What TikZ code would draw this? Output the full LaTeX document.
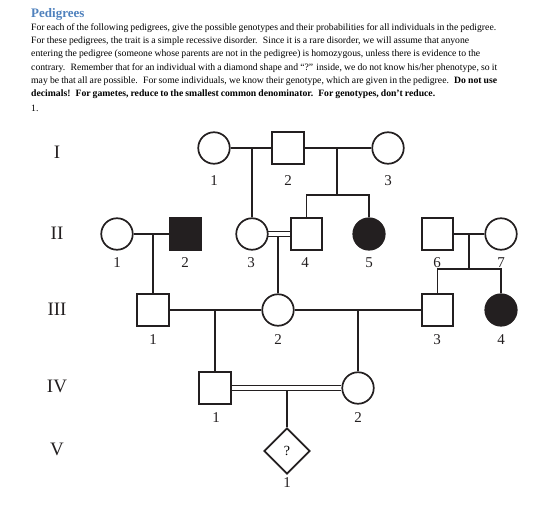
\documentclass[tikz,border=0pt]{standalone}
\usepackage{fontspec}
\setmainfont{Liberation Serif}
\usetikzlibrary{shapes.geometric}
\definecolor{titleblue}{RGB}{79,129,189}
\definecolor{ink}{RGB}{35,31,32}
\tikzset{
  line/.style={line width=1.7pt, draw=ink},
  dbl/.style={line width=1.3pt, draw=ink},
  male/.style={draw=ink, line width=1.7pt, rectangle, minimum size=31.5pt, inner sep=0},
  female/.style={draw=ink, line width=1.7pt, circle, minimum size=31.5pt, inner sep=0},
  aff/.style={fill=ink},
  unk/.style={draw=ink, line width=1.7pt, diamond, minimum width=46pt, minimum height=46pt, inner sep=0, font=\fontsize{14}{14}\selectfont},
  num/.style={font=\fontsize{15}{15}\selectfont, inner sep=0, text=ink},
  gen/.style={font=\fontsize{19}{19}\selectfont, inner sep=0, text=ink},
  body/.style={anchor=base west, inner sep=0, font=\fontsize{9.7}{10}\selectfont},
}
\begin{document}
\begin{tikzpicture}[x=1pt,y=-1pt]
\useasboundingbox (0,0) rectangle (549,513);
% heading and text
\node[anchor=base west, inner sep=0, font=\fontsize{13}{13}\selectfont\bfseries, text=titleblue] (title) at (31,17.5) {Pedigrees};
\node[body] (t1) at (31,30.5) {\makebox[465pt][s]{For each of the following pedigrees, give the possible genotypes and their probabilities for all individuals in the pedigree.}};
\node[body] (t2) at (31,44) {\makebox[438pt][s]{For these pedigrees, the trait is a simple recessive disorder.~ Since it is a rare disorder, we will assume that anyone}};
\node[body] (t3) at (31,57) {\makebox[449pt][s]{entering the pedigree (someone whose parents are not in the pedigree) is homozygous, unless there is evidence to the}};
\node[body] (t4) at (31,70.5) {\makebox[466pt][s]{contrary.~ Remember that for an individual with a diamond shape and “?” inside, we do not know his/her phenotype, so it}};
\node[body] (t5) at (31,83.5) {\makebox[466pt][s]{may be that all are possible.~ For some individuals, we know their genotype, which are given in the pedigree.~ \textbf{Do not use}}};
\node[body] (t6) at (31,96.5) {\makebox[404pt][s]{\bfseries decimals!~ For gametes, reduce to the smallest common denominator.~ For genotypes, don’t reduce.}};
\node[body] (t7) at (31,112) {1.};
% generation numerals
\node[gen] (gI) at (57,152) {I};
\node[gen] (gII) at (57,233) {II};
\node[gen] (gIII) at (57,309) {III};
\node[gen] (gIV) at (57,386) {IV};
\node[gen] (gV) at (57,449) {V};
% individuals
\node[female] (I1) at (214,148) {};
\node[male] (I2) at (288,148) {};
\node[female] (I3) at (388,148) {};
\node[female] (II1) at (117,234) {};
\node[male,aff] (II2) at (185.5,234) {};
\node[female] (II3) at (252,234) {};
\node[male] (II4) at (306.5,234) {};
\node[female,aff] (II5) at (369,234) {};
\node[male] (II6) at (437.5,234) {};
\node[female] (II7) at (501,234) {};
\node[male] (III1) at (153,310) {};
\node[female] (III2) at (278,310) {};
\node[male] (III3) at (437.5,310) {};
\node[female,aff] (III4) at (501,310) {};
\node[male] (IV1) at (215,388) {};
\node[female] (IV2) at (358,388) {};
\node[unk] (V1) at (287,451) {?};
% labels
\node[num] (lI1) at (214,181) {1};
\node[num] (lI2) at (288,181) {2};
\node[num] (lI3) at (388,181) {3};
\node[num] (lII1) at (117,263) {1};
\node[num] (lII2) at (185,263) {2};
\node[num] (lII3) at (251,263) {3};
\node[num] (lII4) at (305,263) {4};
\node[num] (lII5) at (369,263) {5};
\node[num] (lII6) at (437,263) {6};
\node[num] (lII7) at (501,263) {7};
\node[num] (lIII1) at (153,340) {1};
\node[num] (lIII2) at (278,340) {2};
\node[num] (lIII3) at (437,340) {3};
\node[num] (lIII4) at (501,340) {4};
\node[num] (lIV1) at (216,418) {1};
\node[num] (lIV2) at (358,418) {2};
\node[num] (lV1) at (287,483) {1};
% generation I
\draw[line] (I1) -- (I2);
\draw[line] (I2) -- (I3);
\coordinate (mI12) at (252,148);
\draw[line] (mI12) -- (II3);
\coordinate (mI23) at (337,148);
\coordinate (sI23) at (337,195);
\draw[line] (mI23) -- (sI23);
\draw[line] (II4) |- (sI23) -| (II5);
% generation II
\draw[line] (II1) -- (II2);
\coordinate (mII12) at (153,234);
\draw[line] (mII12) -- (III1);
\draw[dbl] ([yshift=2.2pt,xshift=-0.6pt]II3.east) -- ([yshift=2.2pt]II4.west);
\draw[dbl] ([yshift=-2.2pt,xshift=-0.6pt]II3.east) -- ([yshift=-2.2pt]II4.west);
\coordinate (mII34) at (278,236.2);
\draw[line] (mII34) -- (III2);
\draw[line] (II6) -- (II7);
\coordinate (mII67) at (469,234);
\coordinate (sII67) at (469,269);
\draw[line] (mII67) -- (sII67);
\draw[line] (III3) |- (sII67) -| (III4);
% generation III
\draw[line] (III1) -- (III2);
\draw[line] (III2) -- (III3);
\coordinate (mIII12) at (215,310);
\draw[line] (mIII12) -- (IV1);
\coordinate (mIII23) at (358,310);
\draw[line] (mIII23) -- (IV2);
% generation IV
\draw[dbl] ([yshift=2.2pt]IV1.east) -- ([yshift=2.2pt,xshift=-0.6pt]IV2.west);
\draw[dbl] ([yshift=-2.2pt]IV1.east) -- ([yshift=-2.2pt,xshift=-0.6pt]IV2.west);
\coordinate (mIV) at (287,390.2);
\draw[line] (mIV) -- (V1);
\end{tikzpicture}
\end{document}
